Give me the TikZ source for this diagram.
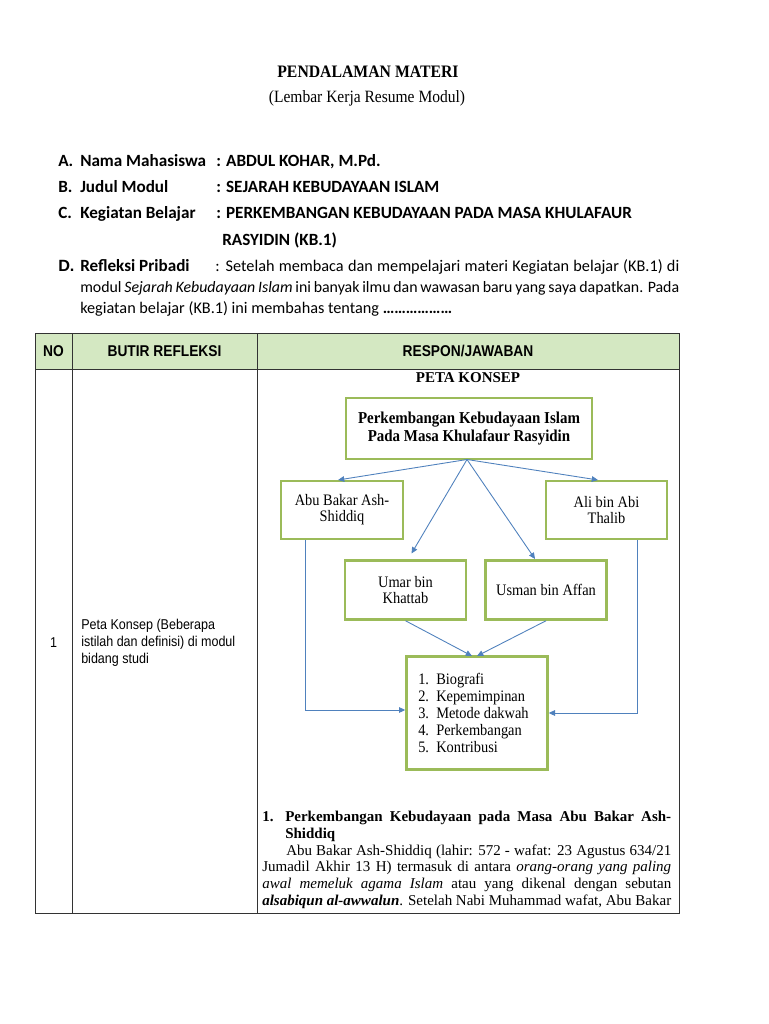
\documentclass[tikz,border=0pt]{standalone}
\usepackage{fontspec}
\setmainfont{Liberation Serif}
\newfontfamily\calfont{Carlito}
\newfontfamily\arialfont{Liberation Sans}
\newfontfamily\arialn[FakeStretch=0.88]{Liberation Sans}
\newfontfamily\serifn[FakeStretch=0.9]{Liberation Serif}
\usetikzlibrary{arrows.meta}
\definecolor{hdrgreen}{HTML}{D4E8C2}
\definecolor{boxgreen}{HTML}{9BBB59}
\definecolor{arrowblue}{HTML}{4F81BD}
\newcommand{\fs}[1]{\fontsize{#1}{#1}\selectfont}
\tikzset{
  txt/.style={inner sep=0pt, anchor=base west},
  ctxt/.style={inner sep=0pt, anchor=base},
  gbox/.style={draw=boxgreen, line width=2pt, inner sep=2pt, align=center},
  conn/.style={draw=arrowblue, line width=0.7pt, -{Triangle[length=5pt,width=4.5pt]}},
  tline/.style={draw=black!80, line width=0.8pt},
}
\begin{document}
\begin{tikzpicture}[x=0.8pt,y=-0.8pt]
\useasboundingbox[fill=white] (0,0) rectangle (768,1024);

% ---------- heading ----------
\node[ctxt] (title) at (368,78) {\serifn\fs{14}\bfseries PENDALAMAN MATERI};
\node[ctxt] (subtitle) at (367,103) {\serifn\fs{13.8}(Lembar Kerja Resume Modul)};

\node[txt] (la) at (58,167) {\calfont\fs{13.7}\bfseries A.};
\node[txt] (na) at (80,167) {\calfont\fs{13.7}\bfseries Nama Mahasiswa};
\node[txt] (va) at (216,167) {\calfont\fs{13.7}\bfseries : ABDUL KOHAR, M.Pd.};
\node[txt] (lb) at (58,193) {\calfont\fs{13.7}\bfseries B.};
\node[txt] (nb) at (80,193) {\calfont\fs{13.7}\bfseries Judul Modul};
\node[txt] (vb) at (216,193) {\calfont\fs{13.7}\bfseries : SEJARAH KEBUDAYAAN ISLAM};
\node[txt] (lc) at (58,219) {\calfont\fs{13.7}\bfseries C.};
\node[txt] (nc) at (80,219) {\calfont\fs{13.7}\bfseries Kegiatan Belajar};
\node[txt] (vc) at (216,219) {\calfont\fs{13.7}\bfseries : PERKEMBANGAN KEBUDAYAAN PADA MASA KHULAFAUR};
\node[txt] (vc2) at (222,245) {\calfont\fs{13.7}\bfseries RASYIDIN (KB.1)};
\node[txt] (ld) at (58,271) {\arialfont\fs{13}\bfseries D.};
\node[txt] (nd) at (80,271) {\calfont\fs{13.7}\bfseries Refleksi Pribadi};
\node[txt] (vd1) at (215,271) {\calfont\fs{13}\makebox[371.2pt][s]{: Setelah membaca dan mempelajari materi Kegiatan belajar (KB.1) di}};
\node[txt] (vd2) at (80,292) {\calfont\fs{12.7}\makebox[479.2pt][s]{modul \textit{Sejarah Kebudayaan Islam} ini banyak ilmu dan wawasan baru yang saya dapatkan. Pada}};
\node[txt] (vd3) at (80,313) {\calfont\fs{13}kegiatan belajar (KB.1) ini membahas tentang \textbf{\ldots\ldots\ldots\ldots\ldots\ldots}};

% ---------- table ----------
\fill[hdrgreen] (35,333) rectangle (679,369);
\draw[tline] (35,333) rectangle (679,913);
\draw[tline] (35,369) -- (679,369);
\draw[tline] (72,333) -- (72,913);
\draw[tline] (257,333) -- (257,913);

\node[ctxt] (hno) at (53.5,356) {\arialn\fs{12.5}\bfseries NO};
\node[ctxt] (hbutir) at (164.5,356) {\arialn\fs{12.5}\bfseries BUTIR REFLEKSI};
\node[ctxt] (hrespon) at (468,356) {\arialn\fs{12.5}\bfseries RESPON/JAWABAN};

\node[ctxt] (rno) at (53.5,647) {\arialn\fs{11.4}1};
\node[txt] (rb1) at (81,629) {\arialn\fs{11.4}Peta Konsep (Beberapa};
\node[txt] (rb2) at (81,646) {\arialn\fs{11.4}istilah dan definisi) di modul};
\node[txt] (rb3) at (81,663) {\arialn\fs{11.4}bidang studi};

\node[ctxt] (peta) at (468,382) {\fs{12}\bfseries PETA KONSEP};

% ---------- concept map ----------
\node[gbox, minimum width=196.8pt, minimum height=48.8pt] (top) at (469,428.5)
  {\serifn\fs{13.3}\bfseries Perkembangan Kebudayaan Islam\\[1pt]\serifn\fs{13.3}\bfseries Pada Masa Khulafaur Rasyidin};
\node[gbox, minimum width=97.6pt, minimum height=46.4pt] (abu) at (342,510)
  {\serifn\fs{12.8}Abu Bakar Ash-\\[1pt]\serifn\fs{12.8}Shiddiq};
\node[gbox, minimum width=96.8pt, minimum height=46.4pt] (ali) at (606.5,510)
  {\serifn\fs{12.8}Ali bin Abi\\[1pt]\serifn\fs{12.8}Thalib};
\node[gbox, minimum width=96.8pt, minimum height=47.2pt] (umar) at (405.5,590)
  {\serifn\fs{12.8}Umar bin\\[1pt]\serifn\fs{12.8}Khattab};
\node[gbox, minimum width=96.8pt, minimum height=47.2pt] (usman) at (546,590)
  {\serifn\fs{12.8}Usman bin Affan};
\node[gbox, minimum width=112.8pt, minimum height=90.4pt] (list) at (477,713) {};

\node[txt] (n1) at (418,684) {\serifn\fs{12.8}1.};
\node[txt] (t1) at (436,684) {\serifn\fs{12.8}Biografi};
\node[txt] (n2) at (418,701) {\serifn\fs{12.8}2.};
\node[txt] (t2) at (436,701) {\serifn\fs{12.8}Kepemimpinan};
\node[txt] (n3) at (418,718) {\serifn\fs{12.8}3.};
\node[txt] (t3) at (436,718) {\serifn\fs{12.8}Metode dakwah};
\node[txt] (n4) at (418,735) {\serifn\fs{12.8}4.};
\node[txt] (t4) at (436,735) {\serifn\fs{12.8}Perkembangan};
\node[txt] (n5) at (418,752) {\serifn\fs{12.8}5.};
\node[txt] (t5) at (436,752) {\serifn\fs{12.8}Kontribusi};

\coordinate (tsrc) at (467,459.5);
\coordinate (abuT) at (338,480);
\coordinate (aliT) at (598,480);
\coordinate (umarT) at (411.5,553.5);
\coordinate (usmanT) at (535,559);
\coordinate (listA) at (472,656);
\coordinate (listB) at (477,656);
\coordinate (abuL) at (305,540);
\coordinate (aliL) at (637,540);

\draw[conn] (tsrc) -- (abuT);
\draw[conn] (tsrc) -- (aliT);
\draw[conn] (tsrc) -- (umarT);
\draw[conn] (tsrc) -- (usmanT);
\draw[conn] (umar.south) -- (listA);
\draw[conn] (usman.south) -- (listB);
\draw[conn] (abuL) -- (305,710) -- (list.west |- 0,710);
\draw[conn] (aliL) -- (637,713) -- (list.east |- 0,713);

% ---------- paragraph ----------
\node[txt] (p1n) at (262,821.5) {\fs{12}\bfseries 1.};
\node[txt] (p1) at (285,821.5) {\fs{12}\bfseries\makebox[308.8pt][s]{Perkembangan Kebudayaan pada Masa Abu Bakar Ash-}};
\node[txt] (p2) at (285,838) {\fs{12}\bfseries Shiddiq};
\node[txt] (p3) at (286,855) {\fs{12}\makebox[308pt][s]{Abu Bakar Ash-Shiddiq (lahir: 572 - wafat: 23 Agustus 634/21}};
\node[txt] (p4) at (262,871.5) {\fs{12}\makebox[327.2pt][s]{Jumadil Akhir 13 H) termasuk di antara \textit{orang-orang yang paling}}};
\node[txt] (p5) at (262,888.5) {\fs{12}\makebox[327.2pt][s]{\textit{awal memeluk agama Islam} atau yang dikenal dengan sebutan}};
\node[txt] (p6) at (262,905.5) {\fs{12}\makebox[327.2pt][s]{\textbf{\textit{alsabiqun al-awwalun}}. Setelah Nabi Muhammad wafat, Abu Bakar}};
\end{tikzpicture}
\end{document}
